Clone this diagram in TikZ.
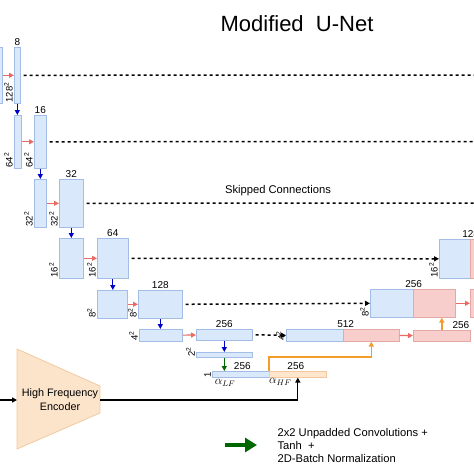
\documentclass[tikz,border=0pt]{standalone}
\usepackage{fontspec}
\setmainfont{Liberation Sans}
\usetikzlibrary{arrows.meta}
\definecolor{bfill}{HTML}{DAE8FC}
\definecolor{bline}{HTML}{A3BEE6}
\definecolor{rfill}{HTML}{F8CECC}
\definecolor{rline}{HTML}{E3A9A6}
\definecolor{ofill}{HTML}{FFE6CC}
\definecolor{oline}{HTML}{F2C89C}
\definecolor{efill}{HTML}{FCE4CB}
\definecolor{eline}{HTML}{F3C9A0}
\definecolor{rarrc}{HTML}{EA6B66}
\definecolor{barrc}{HTML}{0000CC}
\definecolor{garrc}{HTML}{006600}
\definecolor{oarrc}{HTML}{F39C2B}
\tikzset{
  box/.style={draw=bline, fill=bfill, line width=0.6pt, inner sep=0pt, anchor=north west},
  rbox/.style={box, draw=rline, fill=rfill},
  obox/.style={box, draw=oline, fill=ofill},
  num/.style={font=\fontsize{10}{12}\selectfont, inner sep=1.2pt, anchor=south},
  dimlab/.style={font=\fontsize{9.5}{11}\selectfont, rotate=90, anchor=south west, inner sep=1pt},
  tip/.style={-{Triangle[length=5pt,width=5pt]}},
  rarr/.style={draw=rarrc, line width=1.2pt, tip},
  barr/.style={draw=barrc, line width=1.3pt, tip},
  garr/.style={draw=garrc, line width=1.3pt, tip},
  oarr/.style={draw=oarrc, line width=1.4pt, tip},
  skipline/.style={draw=black, line width=1.5pt, dash pattern=on 3pt off 3pt},
  skiparr/.style={skipline, tip},
  blackarr/.style={draw=black, line width=1.3pt, tip},
}
\begin{document}
\begin{tikzpicture}[x=1pt, y=-1pt]
\useasboundingbox (0,0) rectangle (474,474);
\clip (0,0) rectangle (474,474);
% title
\node[font=\fontsize{22}{26}\selectfont] (title) at (297,24) {Modified\ \ U-Net};
\node[font=\fontsize{11.2}{13}\selectfont] (skiptxt) at (278,191) {Skipped Connections};
% encoder boxes
\node[box, minimum width=10pt, minimum height=56pt] (bL) at (-8,47) {};
\node[box, minimum width=6pt, minimum height=56pt] (b8) at (14,47) {};
\node[box, minimum width=7pt, minimum height=53pt] (b64L) at (14,115) {};
\node[box, minimum width=12pt, minimum height=53pt] (b16) at (34,115) {};
\node[box, minimum width=12pt, minimum height=48pt] (b32L) at (34,179) {};
\node[box, minimum width=24pt, minimum height=48pt] (b32) at (59,179) {};
\node[box, minimum width=24pt, minimum height=40pt] (b16L) at (59,238) {};
\node[box, minimum width=31pt, minimum height=40pt] (b64) at (97,238) {};
\node[box, minimum width=30pt, minimum height=28pt] (b8L) at (97,290) {};
\node[box, minimum width=44pt, minimum height=28pt] (b128) at (138,290) {};
\node[box, minimum width=43pt, minimum height=12pt] (b4L) at (139,329) {};
\node[box, minimum width=56pt, minimum height=11pt] (b256) at (196,329) {};
\node[box, minimum width=56pt, minimum height=5pt] (b2L) at (196,352) {};
\node[box, minimum width=57pt, minimum height=6pt] (b1) at (212,371) {};
\node[obox, minimum width=57pt, minimum height=6pt] (o1) at (269,371) {};
% decoder boxes
\node[box, minimum width=57pt, minimum height=12pt] (d512b) at (286,329) {};
\node[rbox, minimum width=56pt, minimum height=12pt] (d512r) at (343,329) {};
\node[rbox, minimum width=57pt, minimum height=11pt] (r256) at (413,330) {};
\node[box, minimum width=43pt, minimum height=28pt] (d256b) at (370,289) {};
\node[rbox, minimum width=42pt, minimum height=28pt] (d256r) at (413,289) {};
\node[rbox, minimum width=20pt, minimum height=28pt] (d2r) at (470,289) {};
\node[box, minimum width=31pt, minimum height=39pt] (d128b) at (439,239) {};
\node[rbox, minimum width=20pt, minimum height=39pt] (d128r) at (470,239) {};
% numbers above
\node[num] (n8) at (b8.north) {8};
\node[num] (n16) at (b16.north) {16};
\node[num] (n32) at (b32.north) {32};
\node[num] (n64) at (b64.north) {64};
\node[num] (n128) at (b128.north) {128};
\node[num] (n256a) at (b256.north) {256};
\node[num] (n512) at ([xshift=2pt]d512b.north east) {512};
\node[num] (n256b) at (d256b.north east) {256};
\node[num] (n128b) at (d128b.north east) {128};
\node[num, anchor=south east] (n256c) at (r256.north east) {256};
\node[num] (n256d) at ([xshift=1.5pt]b1.north) {256};
\node[num] (n256e) at ([xshift=-2pt]o1.north) {256};
% alpha labels
\node[font=\fontsize{12}{13}\selectfont, anchor=north] (alf) at (225,376) {$\alpha_{LF}$};
\node[font=\fontsize{12}{13}\selectfont, anchor=north west, inner sep=1pt] (ahf) at (268,377) {$\alpha_{HF}$};
% dimension labels
\node[dimlab] (s1) at (b8.south west) {128\textsuperscript{2}};
\node[dimlab] (s2) at (b64L.south west) {64\textsuperscript{2}};
\node[dimlab] (s3) at (b16.south west) {64\textsuperscript{2}};
\node[dimlab] (s4) at (b32L.south west) {32\textsuperscript{2}};
\node[dimlab] (s5) at (b32.south west) {32\textsuperscript{2}};
\node[dimlab] (s6) at (b16L.south west) {16\textsuperscript{2}};
\node[dimlab] (s7) at (b64.south west) {16\textsuperscript{2}};
\node[dimlab] (s8) at (b8L.south west) {8\textsuperscript{2}};
\node[dimlab] (s9) at (b128.south west) {8\textsuperscript{2}};
\node[dimlab] (s10) at (b4L.south west) {4\textsuperscript{2}};
\node[dimlab] (s11) at (b2L.south west) {2\textsuperscript{2}};
\node[dimlab] (s12) at ([yshift=-1pt]b1.south west) {1};
\node[dimlab] (s13) at (d128b.south west) {16\textsuperscript{2}};
\node[dimlab] (s14) at (d256b.south west) {8\textsuperscript{2}};
\node[dimlab] (s15) at (d512b.south west) {4\textsuperscript{2}};
% red arrows
\draw[rarr] (bL) -- (b8);
\draw[rarr] (b64L) -- (b16);
\draw[rarr] (b32L) -- (b32);
\draw[rarr] (b16L) -- (b64);
\draw[rarr] (b8L) -- (b128);
\draw[rarr] (b4L) -- (b256);
\draw[rarr] (d512r) -- (r256);
\draw[rarr] (d256r) -- (d2r);
% blue arrows
\draw[barr] (b8.south) -- (b8.south |- b64L.north);
\draw[barr] (b16.south) -- (b16.south |- b32L.north);
\draw[barr] (b32.south) -- (b32.south |- b16L.north);
\draw[barr] (b64.south) -- (b64.south |- b8L.north);
\draw[barr] (b128.south) -- (b128.south |- b4L.north);
\draw[barr] (b256.south) -- (b256.south |- b2L.north);
\draw[garr] (b2L.south) -- (b2L.south |- b1.north);
% skip connections
\coordinate (e1) at (476,75);
\coordinate (e2) at (476,141.5);
\coordinate (e3) at (476,203);
\draw[skipline, shorten <=3pt] (b8.east) -- (e1);
\draw[skipline, shorten <=3pt] (b16.east) -- (e2);
\draw[skipline, shorten <=3pt] (b32.east) -- (e3);
\draw[skiparr, shorten <=3pt] (b64.east) -- (d128b.west);
\draw[skiparr, shorten <=3pt] (b128.east) -- (d256b.west);
\draw[skiparr, shorten <=3pt] (b256.east) -- (d512b.west);
% orange arrows
\draw[oarr] (r256.north) -- (r256.north |- d256r.south);
\draw[oarr] (o1.north west) -- ++(0,-14) -| (d512r.south);
% encoder
\filldraw[fill=efill, draw=eline, line width=0.8pt] (17,349) -- (100,386) -- (100,413) -- (17,449) -- cycle;
\node[font=\fontsize{10.8}{14}\selectfont, align=center] (enc) at (60,400) {High Frequency\\Encoder};
\coordinate (encL) at (17,400);
\coordinate (encR) at (100,400);
\coordinate (inp) at (-2,400);
\draw[blackarr] (inp) -- (encL);
\draw[blackarr] (encR) -| (o1.south);
% legend
\coordinate (lg1) at (225,445);
\coordinate (lg2) at (257,445);
\draw[draw=garrc, line width=4pt, -{Triangle[length=12pt,width=14pt]}] (lg1) -- (lg2);
\node[font=\fontsize{11.2}{13}\selectfont, align=left, anchor=west] (legtxt) at (274,445) {2x2 Unpadded Convolutions +\\Tanh\ \ +\\2D-Batch Normalization};
\end{tikzpicture}
\end{document}
